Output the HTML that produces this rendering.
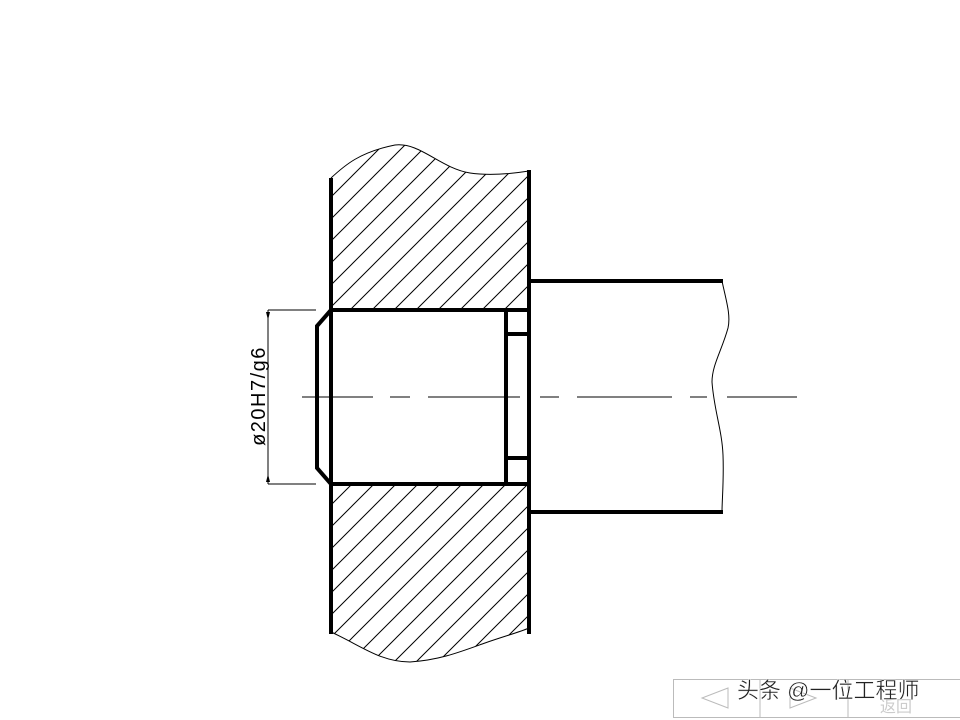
<!DOCTYPE html>
<html><head><meta charset="utf-8"><style>
html,body{margin:0;padding:0;background:#fff;}
svg{display:block}
</style></head><body>
<svg width="960" height="720" viewBox="0 0 960 720" xmlns="http://www.w3.org/2000/svg">
<defs>
<pattern id="h" patternUnits="userSpaceOnUse" width="22" height="22">
<path d="M-2,24 L24,-2 M-13,13 L13,-13 M9,35 L35,9" stroke="#000" stroke-width="1"/>
</pattern>
<clipPath id="c1"><path d="M331,178 C345,165 360,152 395,145 C420,142 440,168 470,173 C490,176 510,174 529,171 L529,310 L331,310 Z"/></clipPath>
<clipPath id="c2"><path d="M331,484 L529,484 L529,628 C520,632 505,636 485,643 C460,652 440,660 410,662 C380,662 360,645 331,632 Z"/></clipPath>
</defs>
<rect width="960" height="720" fill="#fff"/>
<rect x="320" y="130" width="220" height="190" fill="url(#h)" clip-path="url(#c1)"/>
<rect x="320" y="480" width="220" height="190" fill="url(#h)" clip-path="url(#c2)"/>
<g fill="none" stroke="#000" stroke-width="1">
<path d="M331,178 C345,165 360,152 395,145 C420,142 440,168 470,173 C490,176 510,174 529,171"/>
<path d="M331,632 C360,645 380,662 410,662 C440,660 460,652 485,643 C505,636 520,632 529,628"/>
<path d="M722,281 C726,300 731,315 728,328 C722,350 712,365 712,382 C714,410 722,430 723,455 C724,480 722,500 722,512"/>
<path d="M268,310 L268,484 M268,310 L316,310 M268,484 L316,484"/>
<path d="M302,397H373 M390,397H410 M428,397H520 M540,397H559 M577,397H672 M690,397H707 M727,397H797"/>
</g>
<path d="M266,312 L268,320 L270,312 Z M266,482 L268,474 L270,482 Z" fill="#000"/>
<g fill="none" stroke="#000" stroke-width="4" stroke-linecap="square">
<path d="M331,180V632 M529,172V632"/>
<path d="M331,310H529 M331,484H529"/>
<path d="M506,310V484 M506,334H529 M506,458H529"/>
<path d="M331,310 L317,326 L317,468 L331,484"/>
<path d="M529,281H721 M529,512H721"/>
</g>
<text transform="translate(265,396) rotate(-90)" text-anchor="middle" font-family="Liberation Sans, sans-serif" font-size="20" letter-spacing="1.5" fill="#000">ø20H7/g6</text>
<g stroke="#bbb" fill="none" stroke-width="1">
<rect x="673.5" y="679.5" width="300" height="38"/>
<path d="M760,680V718 M848,680V718"/>
<path d="M728,688 L702,698 L728,708 Z"/>
<path d="M790,688 L816,698 L790,708 Z"/>
</g>
<text x="880" y="712" font-family="Liberation Sans, 'Noto Sans CJK SC', sans-serif" font-size="16" fill="#ccc">返回</text>
<text x="737" y="698" font-family="Liberation Sans, 'Noto Sans CJK SC', sans-serif" font-size="22" fill="#222" stroke="#fff" stroke-width="0.4">头条 @一位工程师</text>
</svg>
</body></html>
